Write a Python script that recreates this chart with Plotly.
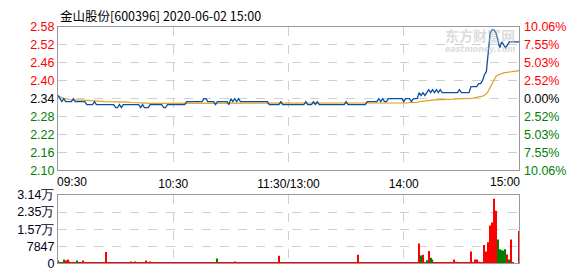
import plotly.graph_objects as go

TITLE = "金山股份[600396] 2020-06-02 15:00"
PREV_CLOSE = 2.34

PRICE = [
    2.35, 2.34, 2.33, 2.34, 2.33, 2.33, 2.33, 2.33, 2.34, 2.33,
    2.33, 2.33, 2.33, 2.33, 2.33, 2.32, 2.32, 2.32, 2.32, 2.33,
    2.32, 2.32, 2.32, 2.32, 2.32, 2.32, 2.32, 2.32, 2.32, 2.32,
    2.31, 2.31, 2.32, 2.31, 2.32, 2.32, 2.32, 2.32, 2.32, 2.32,
    2.32, 2.32, 2.32, 2.31, 2.32, 2.31, 2.31, 2.31, 2.32, 2.32,
    2.32, 2.32, 2.32, 2.32, 2.32, 2.31, 2.31, 2.32, 2.32, 2.32,
    2.32, 2.32, 2.32, 2.32, 2.32, 2.32, 2.32, 2.33, 2.33, 2.33,
    2.33, 2.33, 2.33, 2.33, 2.33, 2.33, 2.34, 2.34, 2.33, 2.33,
    2.33, 2.33, 2.32, 2.33, 2.33, 2.33, 2.33, 2.33, 2.33, 2.32,
    2.34, 2.33, 2.34, 2.33, 2.34, 2.33, 2.33, 2.33, 2.33, 2.33,
    2.33, 2.33, 2.33, 2.33, 2.33, 2.33, 2.33, 2.33, 2.33, 2.33,
    2.32, 2.32, 2.32, 2.32, 2.32, 2.32, 2.33, 2.32, 2.32, 2.32,
    2.32, 2.32, 2.32, 2.32, 2.32, 2.32, 2.32, 2.32, 2.32, 2.33,
    2.32, 2.32, 2.32, 2.33, 2.32, 2.33, 2.32, 2.32, 2.32, 2.32,
    2.32, 2.32, 2.32, 2.32, 2.32, 2.32, 2.32, 2.32, 2.32, 2.32,
    2.33, 2.32, 2.32, 2.32, 2.32, 2.32, 2.32, 2.32, 2.32, 2.32,
    2.32, 2.33, 2.33, 2.33, 2.33, 2.33, 2.33, 2.34, 2.33, 2.34,
    2.33, 2.33, 2.34, 2.34, 2.34, 2.34, 2.34, 2.34, 2.34, 2.34,
    2.33, 2.34, 2.34, 2.34, 2.33, 2.34, 2.34, 2.34, 2.36, 2.35,
    2.36, 2.35, 2.36, 2.37, 2.36, 2.37, 2.36, 2.37, 2.36, 2.37,
    2.36, 2.36, 2.36, 2.36, 2.36, 2.36, 2.36, 2.36, 2.36, 2.37,
    2.36, 2.36, 2.36, 2.36, 2.36, 2.38, 2.38, 2.38, 2.38, 2.39,
    2.39, 2.40, 2.42, 2.43, 2.50, 2.56, 2.57, 2.57, 2.56, 2.53,
    2.51, 2.53, 2.52, 2.51, 2.52, 2.53, 2.53, 2.53, 2.53, 2.53,
    2.53,
]

AVG_PRICE = [
    2.350, 2.346, 2.343, 2.341, 2.339, 2.338, 2.337, 2.336, 2.336, 2.335,
    2.335, 2.335, 2.334, 2.334, 2.334, 2.334, 2.334, 2.333, 2.333, 2.333,
    2.333, 2.332, 2.331, 2.331, 2.330, 2.330, 2.330, 2.330, 2.330, 2.330,
    2.329, 2.329, 2.329, 2.329, 2.328, 2.328, 2.328, 2.328, 2.327, 2.327,
    2.327, 2.326, 2.326, 2.325, 2.325, 2.325, 2.325, 2.324, 2.324, 2.324,
    2.324, 2.324, 2.324, 2.324, 2.324, 2.324, 2.324, 2.324, 2.324, 2.324,
    2.324, 2.324, 2.324, 2.324, 2.324, 2.324, 2.324, 2.324, 2.324, 2.324,
    2.324, 2.324, 2.325, 2.325, 2.325, 2.325, 2.325, 2.325, 2.325, 2.325,
    2.325, 2.325, 2.325, 2.325, 2.325, 2.325, 2.325, 2.325, 2.325, 2.325,
    2.325, 2.325, 2.325, 2.325, 2.325, 2.325, 2.325, 2.325, 2.325, 2.325,
    2.325, 2.325, 2.325, 2.325, 2.325, 2.325, 2.325, 2.325, 2.325, 2.325,
    2.325, 2.325, 2.325, 2.325, 2.325, 2.325, 2.325, 2.325, 2.325, 2.325,
    2.324, 2.324, 2.324, 2.324, 2.324, 2.324, 2.324, 2.324, 2.324, 2.324,
    2.324, 2.324, 2.324, 2.324, 2.324, 2.324, 2.324, 2.324, 2.324, 2.324,
    2.324, 2.324, 2.324, 2.324, 2.324, 2.324, 2.324, 2.324, 2.324, 2.324,
    2.324, 2.324, 2.324, 2.324, 2.324, 2.324, 2.324, 2.324, 2.324, 2.324,
    2.324, 2.324, 2.324, 2.324, 2.325, 2.325, 2.325, 2.325, 2.325, 2.325,
    2.325, 2.325, 2.325, 2.325, 2.326, 2.326, 2.326, 2.326, 2.326, 2.326,
    2.326, 2.326, 2.326, 2.327, 2.327, 2.327, 2.327, 2.327, 2.330, 2.331,
    2.332, 2.332, 2.333, 2.334, 2.335, 2.335, 2.336, 2.336, 2.336, 2.337,
    2.337, 2.337, 2.337, 2.338, 2.338, 2.338, 2.338, 2.339, 2.339, 2.339,
    2.339, 2.339, 2.339, 2.339, 2.339, 2.341, 2.342, 2.343, 2.344, 2.345,
    2.346, 2.348, 2.351, 2.356, 2.365, 2.378, 2.392, 2.405, 2.414, 2.419,
    2.422, 2.424, 2.426, 2.427, 2.428, 2.429, 2.432, 2.432, 2.432, 2.432,
    2.435,
]

VOLUME = [
    1300, 440, 440, 1750, 1300, 1750, 870, 440, 440, 440,
    1300, 440, 440, 1300, 440, 440, 300, 440, 440, 440,
    440, 440, 300, 440, 440, 5200, 440, 440, 440, 440,
    440, 300, 440, 440, 440, 440, 440, 440, 870, 440,
    870, 440, 440, 440, 440, 440, 1300, 440, 870, 440,
    440, 440, 300, 440, 440, 440, 440, 440, 440, 440,
    440, 440, 440, 440, 300, 440, 440, 440, 440, 440,
    440, 440, 440, 440, 440, 440, 440, 440, 300, 440,
    440, 440, 440, 2200, 440, 440, 440, 440, 440, 440,
    440, 440, 870, 440, 440, 440, 440, 440, 440, 440,
    440, 440, 440, 440, 440, 440, 440, 440, 440, 440,
    440, 440, 440, 440, 440, 3500, 440, 440, 440, 440,
    440, 300, 300, 440, 440, 440, 440, 440, 440, 440,
    440, 440, 440, 440, 440, 440, 440, 440, 440, 440,
    440, 440, 440, 440, 440, 440, 440, 440, 440, 440,
    440, 440, 440, 440, 440, 440, 3900, 440, 440, 440,
    440, 440, 440, 440, 440, 440, 440, 440, 440, 440,
    440, 440, 440, 440, 440, 440, 440, 440, 440, 440,
    440, 440, 440, 440, 440, 440, 440, 440, 9100, 3600,
    3900, 440, 1400, 5700, 2600, 1750, 440, 440, 440, 440,
    440, 440, 440, 440, 440, 440, 1750, 700, 440, 440,
    440, 440, 440, 440, 440, 5400, 440, 1750, 1750, 700,
    440, 440, 8400, 5400, 9700, 17400, 18700, 29600, 24100, 10900,
    6400, 6000, 5800, 6500, 4000, 1750, 10900, 300, 0, 0,
    14800,
]

DOWN_BARS = [0, 3, 10, 83, 189, 192, 194, 195, 229, 230, 231, 232, 233, 235]

PRICE_TICKS = [2.10, 2.16, 2.22, 2.28, 2.34, 2.40, 2.46, 2.52, 2.58]
PCT_LABELS = ["10.06%", "7.55%", "5.03%", "2.52%", "0.00%", "2.52%", "5.03%", "7.55%", "10.06%"]
VOL_TICKS = [0, 7847, 15694, 23541, 31388]
VOL_LABELS = ["0", "7847", "1.57万", "2.35万", "3.14万"]
TIME_TICKS = [0, 60, 120, 180, 240]
TIME_LABELS = ["09:30", "10:30", "11:30/13:00", "14:00", "15:00"]

assert len(PRICE) == 241 and len(AVG_PRICE) == 241 and len(VOLUME) == 241

MINUTES = list(range(len(PRICE)))

W, H = 578, 276
LEFT, RIGHT = 58, 519
TOP1, BOT1 = 21, 172
TOP2, BOT2 = 198, 270

RED, GREEN, BLACK = "#ff0000", "#008000", "#000000"
GRID = "#cfcfcf"
BORDER = "#999999"
NUMFONT = "Liberation Sans"


def tick_color(v):
    if v > PREV_CLOSE + 1e-9:
        return RED
    if v < PREV_CLOSE - 1e-9:
        return GREEN
    return BLACK


left_text = [f"<span style='color:{tick_color(v)}'>{v:.2f}</span>" for v in PRICE_TICKS]
right_text = [f"<span style='color:{tick_color(v)}'>{t}</span>" for v, t in zip(PRICE_TICKS, PCT_LABELS)]
bar_colors = [GREEN if i in DOWN_BARS else RED for i in MINUTES]

fig = go.Figure()
fig.add_trace(go.Scatter(x=MINUTES, y=AVG_PRICE, mode="lines",
                         line=dict(color="#e0a020", width=1.2), xaxis="x", yaxis="y",
                         hoverinfo="skip"))
fig.add_trace(go.Scatter(x=MINUTES, y=PRICE, mode="lines",
                         line=dict(color="#0a4fa0", width=1.3), xaxis="x", yaxis="y",
                         hoverinfo="skip"))
fig.add_trace(go.Scatter(x=[0, 240], y=[PRICE_TICKS[0], PRICE_TICKS[-1]], mode="markers",
                         marker=dict(opacity=0), xaxis="x", yaxis="y2", hoverinfo="skip"))
fig.add_trace(go.Bar(x=MINUTES, y=VOLUME, marker=dict(color=bar_colors, line=dict(width=0)),
                     width=0.6, xaxis="x2", yaxis="y3", hoverinfo="skip"))

dom_x = [LEFT / W, RIGHT / W]
common_x = dict(range=[0, 240], domain=dom_x, showline=True, mirror=True, linecolor=BORDER,
                linewidth=1, showgrid=True, gridcolor=GRID, griddash="dash", gridwidth=1,
                zeroline=False, ticks="", fixedrange=True)

fig.update_layout(
    width=W, height=H, margin=dict(l=0, r=0, t=0, b=0), autosize=False,
    paper_bgcolor="white", plot_bgcolor="white", showlegend=False,
    font=dict(family=NUMFONT, size=12, color=BLACK),
    xaxis=dict(common_x, anchor="y", tickvals=TIME_TICKS[1:-1], ticktext=TIME_LABELS[1:-1],
               tickfont=dict(size=12, color=BLACK), ticklabelstandoff=2),
    xaxis2=dict(common_x, anchor="y3", tickvals=TIME_TICKS[1:-1], showticklabels=False),
    yaxis=dict(range=[PRICE_TICKS[0], PRICE_TICKS[-1]], domain=[1 - BOT1 / H, 1 - TOP1 / H],
               tickvals=PRICE_TICKS, ticktext=left_text, showline=True, mirror=True,
               linecolor=BORDER, showgrid=True, gridcolor=GRID, griddash="dash",
               zeroline=False, ticks="", tickfont=dict(size=12.5), anchor="x"),
    yaxis2=dict(range=[PRICE_TICKS[0], PRICE_TICKS[-1]], overlaying="y", side="right",
                tickvals=PRICE_TICKS, ticktext=right_text, showgrid=False, zeroline=False,
                ticks="", tickfont=dict(size=12.5), anchor="x", showline=False,
                ticklabelstandoff=4),
    yaxis3=dict(range=[VOL_TICKS[0], VOL_TICKS[-1]], domain=[1 - BOT2 / H, 1 - TOP2 / H],
                tickvals=VOL_TICKS, ticktext=VOL_LABELS, showline=True, mirror=True,
                linecolor=BORDER, showgrid=True, gridcolor=GRID, griddash="dash",
                zeroline=False, ticks="", tickfont=dict(size=12.5, color="#000020"), anchor="x2"),
)

LAB_Y = 1 - 184 / H
fig.add_annotation(x=TIME_TICKS[0], y=LAB_Y, xref="x", yref="paper", text=TIME_LABELS[0],
                   showarrow=False, xanchor="left", yanchor="middle", font=dict(size=12),
                   xshift=-3)
fig.add_annotation(x=TIME_TICKS[-1], y=LAB_Y, xref="x", yref="paper", text=TIME_LABELS[-1],
                   showarrow=False, xanchor="right", yanchor="middle", font=dict(size=12),
                   xshift=3)

fig.add_annotation(x=LEFT / W, y=1 - 9 / H, xref="paper", yref="paper", text=TITLE,
                   showarrow=False, xanchor="left", yanchor="middle",
                   font=dict(family="Noto Sans CJK SC", size=12.5, color=BLACK))

fig.add_annotation(x=517 / W, y=1 - 29 / H, xref="paper", yref="paper", text="<b>东方财富网</b>",
                   showarrow=False, xanchor="right", yanchor="middle",
                   font=dict(family="Noto Sans CJK SC", size=14, color="rgba(190,190,190,0.55)"))
fig.add_annotation(x=517 / W, y=1 - 45 / H, xref="paper", yref="paper", text="<b><i>eastmoney.com</i></b>",
                   showarrow=False, xanchor="right", yanchor="middle",
                   font=dict(family="DejaVu Sans", size=8, color="rgba(190,190,190,0.55)"))

fig.write_html("out.html")
